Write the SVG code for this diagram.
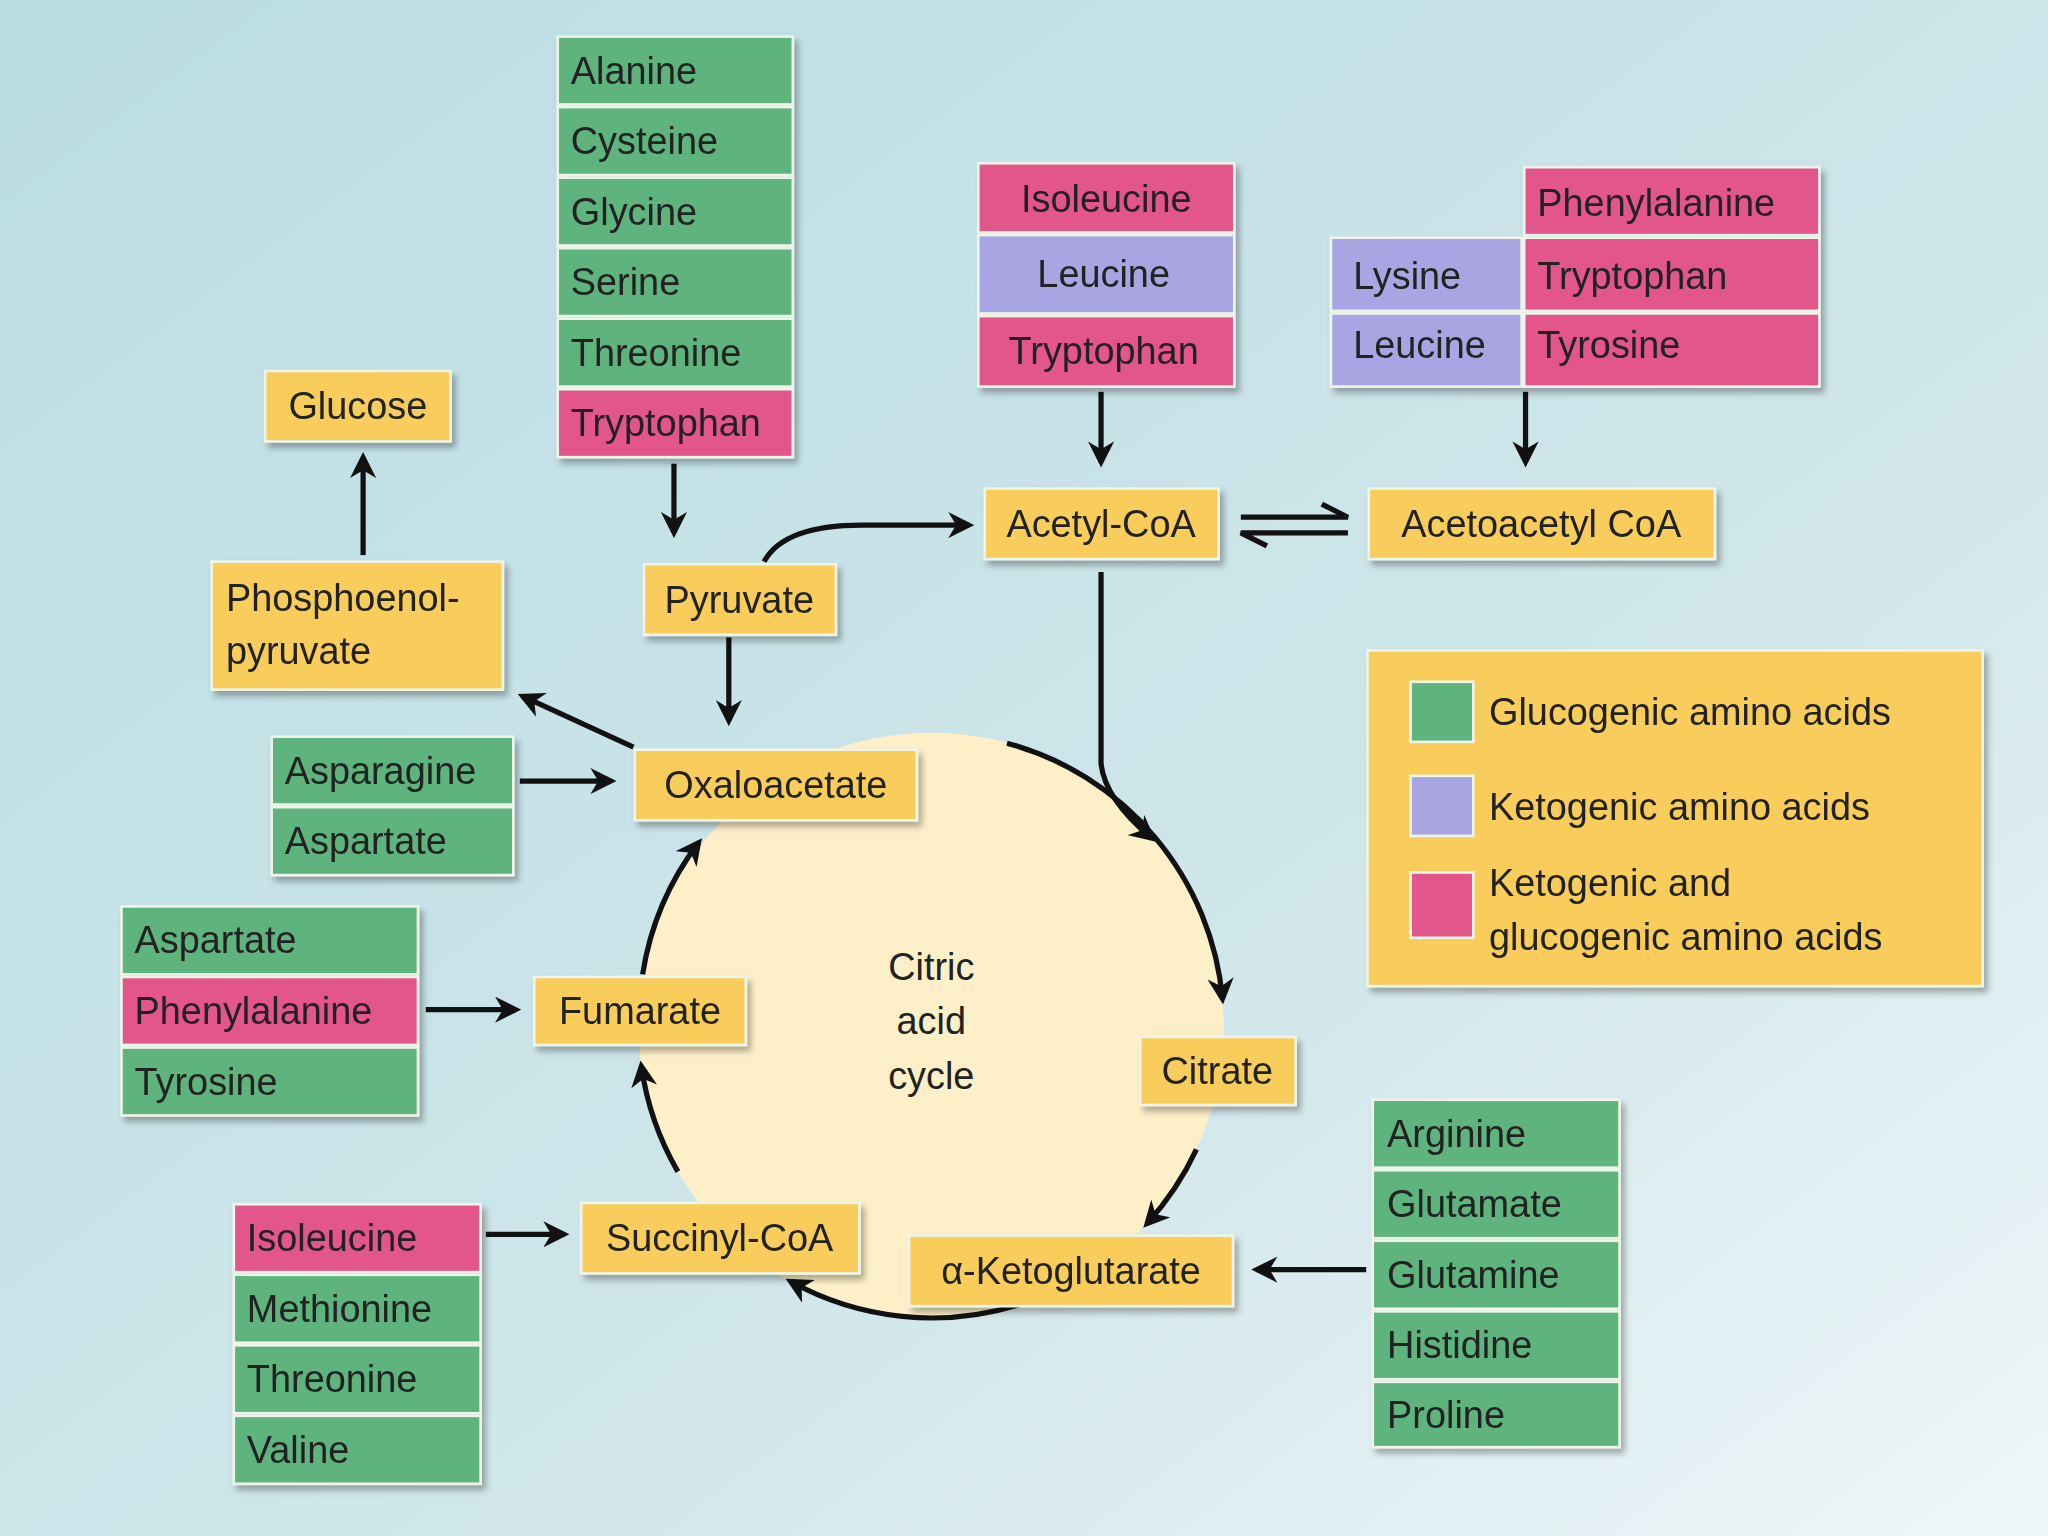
<svg xmlns="http://www.w3.org/2000/svg" width="2048" height="1536" viewBox="0 0 2048 1536">
<defs>
<linearGradient id="bg" x1="0" y1="0" x2="1" y2="1">
<stop offset="0" stop-color="#b9dde3"/><stop offset="0.6" stop-color="#cfe6ea"/><stop offset="1" stop-color="#eef6f8"/>
</linearGradient>
<filter id="sh" x="-10%" y="-10%" width="130%" height="130%"><feDropShadow dx="3" dy="4" stdDeviation="2.5" flood-color="#000" flood-opacity="0.3"/></filter>
<marker id="ah" viewBox="0 0 10 10" refX="8" refY="5" markerWidth="5" markerHeight="5" orient="auto" markerUnits="strokeWidth"><path d="M0,0 L10,5 L0,10 L3,5 z" fill="#111"/></marker>
<style>
.g{fill:#5eb47e}.p{fill:#e2578b}.v{fill:#a8a5e2}.y{fill:#f8cd5c}
rect{stroke:#eef5e8;stroke-width:2}
g.n{filter:url(#sh)}
text{font-family:"Liberation Sans",Arial,sans-serif;font-size:29px;fill:#222}
.c{text-anchor:middle}
.l{fill:none;stroke:#111;stroke-width:4;marker-end:url(#ah)}
</style>
</defs>
<rect x="0" y="0" width="2048" height="1536" fill="url(#bg)" style="stroke:none"/>
<g transform="scale(1.30612)">
<g id="cycle">
<circle cx="713" cy="785" r="224" fill="#fdf0c9" style="stroke:none"/>
<text x="713" y="750" class="c">Citric</text>
<text x="713" y="792" class="c">acid</text>
<text x="713" y="834" class="c">cycle</text>
</g>
<g id="connectors">
<path class="l" d="M771,569 A224,224 0 0 1 936,765"/>
<path class="l" d="M916,880 A224,224 0 0 1 878,937"/>
<path class="l" d="M780,999 A224,224 0 0 1 605,981"/>
<path class="l" d="M519,897 A224,224 0 0 1 491,816"/>
<path class="l" d="M492,746 A224,224 0 0 1 535,645"/>
<path class="l" d="M843,438 L843,585 Q846,612 882,642"/>
<path class="l" d="M585,430 Q600,402 660,402 L742,402"/>
<path class="l" d="M558,488 L558,552"/>
<path class="l" d="M516,355 L516,408"/>
<path class="l" d="M278,425 L278,350"/>
<path class="l" d="M485,572 L400,533"/>
<path class="l" d="M398,598 L468,598"/>
<path class="l" d="M326,773 L395,773"/>
<path class="l" d="M372,945 L432,945"/>
<path class="l" d="M1046,972 L962,972"/>
<path class="l" d="M843,300 L843,354"/>
<path class="l" d="M1168,300 L1168,354"/>
<path d="M950,396 L1032,396 L1012,386" fill="none" stroke="#111" stroke-width="4"/>
<path d="M1032,408 L950,408 L970,418" fill="none" stroke="#111" stroke-width="4"/>
</g>
<g id="col-pyruvate" class="n">
<rect class="g" x="427" y="28" width="180" height="52"/><text x="437" y="64">Alanine</text>
<rect class="g" x="427" y="82" width="180" height="52"/><text x="437" y="118">Cysteine</text>
<rect class="g" x="427" y="136" width="180" height="52"/><text x="437" y="172">Glycine</text>
<rect class="g" x="427" y="190" width="180" height="52"/><text x="437" y="226">Serine</text>
<rect class="g" x="427" y="244" width="180" height="52"/><text x="437" y="280">Threonine</text>
<rect class="p" x="427" y="298" width="180" height="52"/><text x="437" y="334">Tryptophan</text>
</g>
<g id="glucose" class="n"><rect class="y" x="203" y="284" width="142" height="54"/><text x="274" y="321" class="c">Glucose</text></g>
<g id="pep" class="n"><rect class="y" x="162" y="430" width="223" height="98"/><text x="173" y="468">Phosphoenol-</text><text x="173" y="508">pyruvate</text></g>
<g id="pyruvate" class="n"><rect class="y" x="493" y="432" width="147" height="54"/><text x="566" y="469" class="c">Pyruvate</text></g>
<g id="col-acetyl" class="n">
<rect class="p" x="749" y="125" width="196" height="53"/><text x="847" y="162" class="c">Isoleucine</text>
<rect class="v" x="749" y="180" width="196" height="60"/><text x="845" y="220" class="c">Leucine</text>
<rect class="p" x="749" y="242" width="196" height="54"/><text x="845" y="279" class="c">Tryptophan</text>
</g>
<g id="col-acetoacetyl" class="n">
<rect class="p" x="1167" y="128" width="226" height="52"/><text x="1177" y="165">Phenylalanine</text>
<rect class="v" x="1019" y="182" width="146" height="56"/><text x="1036" y="221">Lysine</text>
<rect class="p" x="1167" y="182" width="226" height="56"/><text x="1177" y="221">Tryptophan</text>
<rect class="v" x="1019" y="240" width="146" height="56"/><text x="1036" y="274">Leucine</text>
<rect class="p" x="1167" y="240" width="226" height="56"/><text x="1177" y="274">Tyrosine</text>
</g>
<g id="acetylcoa" class="n"><rect class="y" x="754" y="374" width="179" height="54"/><text x="843" y="411" class="c">Acetyl-CoA</text></g>
<g id="acetoacetylcoa" class="n"><rect class="y" x="1048" y="374" width="265" height="54"/><text x="1180" y="411" class="c">Acetoacetyl CoA</text></g>
<g id="legend" class="n">
<rect class="y" x="1047" y="498" width="471" height="257"/>
<rect class="g" x="1080" y="522" width="48" height="46"/><text x="1140" y="555">Glucogenic amino acids</text>
<rect class="v" x="1080" y="594" width="48" height="46"/><text x="1140" y="628">Ketogenic amino acids</text>
<rect class="p" x="1080" y="668" width="48" height="50"/><text x="1140" y="686">Ketogenic and</text><text x="1140" y="727">glucogenic amino acids</text>
</g>
<g id="col-oxalo" class="n">
<rect class="g" x="208" y="564" width="185" height="52"/><text x="218" y="600">Asparagine</text>
<rect class="g" x="208" y="618" width="185" height="52"/><text x="218" y="654">Aspartate</text>
</g>
<g id="oxaloacetate" class="n"><rect class="y" x="486" y="574" width="216" height="54"/><text x="594" y="611" class="c">Oxaloacetate</text></g>
<g id="col-fumarate" class="n">
<rect class="g" x="93" y="694" width="227" height="52"/><text x="103" y="730">Aspartate</text>
<rect class="p" x="93" y="748" width="227" height="52"/><text x="103" y="784">Phenylalanine</text>
<rect class="g" x="93" y="802" width="227" height="52"/><text x="103" y="838">Tyrosine</text>
</g>
<g id="fumarate" class="n"><rect class="y" x="409" y="748" width="162" height="52"/><text x="490" y="784" class="c">Fumarate</text></g>
<g id="citrate" class="n"><rect class="y" x="873" y="794" width="119" height="52"/><text x="932" y="830" class="c">Citrate</text></g>
<g id="col-akg" class="n">
<rect class="g" x="1051" y="842" width="189" height="52"/><text x="1062" y="878">Arginine</text>
<rect class="g" x="1051" y="896" width="189" height="52"/><text x="1062" y="932">Glutamate</text>
<rect class="g" x="1051" y="950" width="189" height="52"/><text x="1062" y="986">Glutamine</text>
<rect class="g" x="1051" y="1004" width="189" height="52"/><text x="1062" y="1040">Histidine</text>
<rect class="g" x="1051" y="1058" width="189" height="50"/><text x="1062" y="1093">Proline</text>
</g>
<g id="akg" class="n"><rect class="y" x="696" y="946" width="248" height="54"/><text x="820" y="983" class="c">α-Ketoglutarate</text></g>
<g id="col-succinyl" class="n">
<rect class="p" x="179" y="922" width="189" height="52"/><text x="189" y="958">Isoleucine</text>
<rect class="g" x="179" y="976" width="189" height="52"/><text x="189" y="1012">Methionine</text>
<rect class="g" x="179" y="1030" width="189" height="52"/><text x="189" y="1066">Threonine</text>
<rect class="g" x="179" y="1084" width="189" height="52"/><text x="189" y="1120">Valine</text>
</g>
<g id="succinylcoa" class="n"><rect class="y" x="445" y="921" width="213" height="54"/><text x="551" y="958" class="c">Succinyl-CoA</text></g>
</g>
</svg>
